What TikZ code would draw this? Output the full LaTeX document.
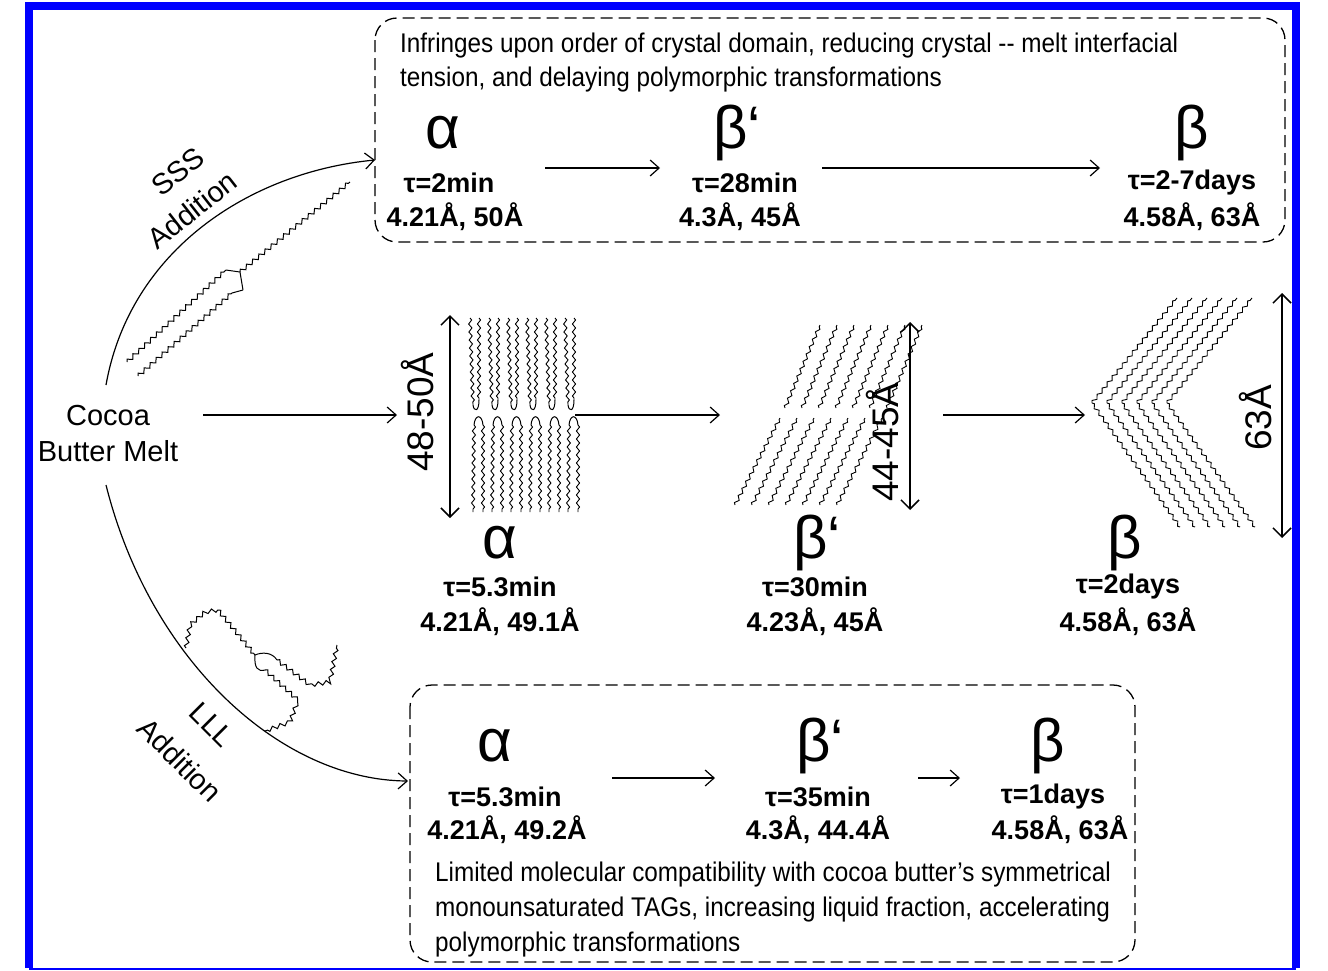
\documentclass[tikz,border=0pt]{standalone}
\usepackage{fontspec}
\setmainfont{Liberation Sans}
\newfontfamily\narrowf{Liberation Sans}[FakeStretch=0.9]
\usetikzlibrary{decorations.pathmorphing,arrows.meta}
\begin{document}
\begin{tikzpicture}[x=1pt,y=-1pt,
 desc/.style={font=\narrowf\fontsize{27}{35}\selectfont,anchor=west,inner sep=0},
 greek/.style={font=\fontsize{60}{60}\selectfont,inner sep=0},
 tau/.style={font=\bfseries\fontsize{27}{27}\selectfont,inner sep=0},
 lbl/.style={font=\fontsize{29}{36}\selectfont,inner sep=0,align=center},
 dlbl/.style={font=\fontsize{37}{37}\selectfont,inner sep=0,rotate=90},
 arr/.style={-{Straight Barb[length=9pt,width=16pt]},line width=1.2pt},
 dimarr/.style={{Straight Barb[length=9pt,width=18pt]}-{Straight Barb[length=9pt,width=18pt]},line width=1.5pt},
 box/.style={dashed,dash pattern=on 12pt off 6pt,line width=1.3pt,rounded corners=22pt},
 chain/.style={decorate,decoration={zigzag,segment length=8pt,amplitude=2pt},line width=1pt},
 schain/.style={decorate,decoration={zigzag,segment length=8pt,amplitude=1.6pt},line width=0.9pt},
 plain/.style={line width=1pt}]
\useasboundingbox (0,0) rectangle (1328,970);
% blue frame
\draw[blue,line width=8pt] (29,968) -- (29,6) -- (1296,6) -- (1296,968);
\draw[blue,line width=2pt] (29,969) -- (1296,969);

% top box
\draw[box] (375,18) rectangle (1285,242);
\node[desc] (t1) at (400,46) {Infringes upon order of crystal domain, reducing crystal -- melt interfacial};
\node[desc] (t2) at (400,80) {tension, and delaying polymorphic transformations};
\node[greek] (ta) at (443,133) {α};
\node[tau] (tat) at (449,183) {τ=2min};
\node[tau] (tad) at (455,217) {4.21Å, 50Å};
\node[greek] (tb1) at (737,133) {β‘};
\node[tau] (tb1t) at (745,183) {τ=28min};
\node[tau] (tb1d) at (740,217) {4.3Å, 45Å};
\node[greek] (tb) at (1192,133) {β};
\node[tau] (tbt) at (1192,183) {τ=2-7days};
\node[tau] (tbd) at (1192,217) {4.58Å, 63Å};
\coordinate (ta1) at (545,168); \coordinate (ta2) at (660,168);
\coordinate (tb1a) at (822,168); \coordinate (tb1b) at (1100,168);
\draw[arr] (ta1) -- (ta2);
\draw[arr] (tb1a) -- (tb1b);

% cocoa
\node[lbl] (cocoa) at (108,434) {Cocoa\\Butter Melt};
\coordinate (m1) at (203,415); \coordinate (m2) at (397,415);
\draw[arr] (m1) -- (m2);
\coordinate (m3) at (575,415); \coordinate (m4) at (720,415);
\draw[arr] (m3) -- (m4);
\coordinate (m5) at (943,415); \coordinate (m6) at (1085,415);
\draw[arr] (m5) -- (m6);

% SSS arc
\coordinate (s0) at (106,385); \coordinate (s1) at (375,160);
\draw[arr] (s0) .. controls (130,250) and (250,172) .. (s1);
\node[lbl,rotate=38] (sss) at (178,172) {SSS};
\node[lbl,rotate=38] (sssa) at (192,210) {Addition};
% LLL arc
\coordinate (l0) at (106,485); \coordinate (l1) at (408,781);
\draw[arr] (l0) .. controls (150,660) and (280,780) .. (l1);
\node[lbl,rotate=-45] (lll) at (212,725) {LLL};
\node[lbl,rotate=-45] (llla) at (180,760) {Addition};

% SSS molecule
\draw[chain] (127,362) -- (226,270);
\draw[plain] (226,270) -- (240,272) -- (243,290);
\draw[chain] (240,272) -- (350,182);
\draw[chain] (138,376) -- (232,293);
\draw[plain] (232,293) -- (243,290);

% LLL molecule
\draw[chain] (186,648) -- (190,625) -- (205,612) -- (218,610);
\draw[chain] (218,610) -- (255,655);
\draw[plain] (255,655) .. controls (262,652) and (272,652) .. (277,660);
\draw[chain] (277,660) -- (310,685) -- (330,682) -- (337,645);
\draw[plain] (255,655) .. controls (254,668) and (258,672) .. (265,670);
\draw[chain] (265,670) -- (298,700) -- (290,722) -- (265,731);
% chains mid α
\foreach \i in {0,...,5}{
  \pgfmathsetmacro{\x}{470+19*\i}
  \draw[schain] (\x,318) -- (\x+3,405);
  \draw[schain] (\x+9,318) -- (\x+9,400);
  \draw[plain] (\x+3,405) .. controls (\x+4,412) and (\x+9,412) .. (\x+9,400);
  \draw[schain] (\x+4,425) -- (\x+3,512);
  \draw[schain] (\x+13,425) -- (\x+13,512);
  \draw[plain] (\x+4,425) .. controls (\x+5,414) and (\x+12,414) .. (\x+13,425);
}
\coordinate (d1a) at (450,315); \coordinate (d1b) at (450,518);
\draw[dimarr] (d1a) -- (d1b);
\node[dlbl] (d1) at (418,412) {48-50Å};
\node[greek] (ma) at (500,543) {α};
\node[tau] (mat) at (500,587) {τ=5.3min};
\node[tau] (mad) at (500,622) {4.21Å, 49.1Å};

% β' crystal
\foreach \i in {0,...,6}{
  \pgfmathsetmacro{\x}{735+17*\i}
  \draw[schain] (\x,505) -- (\x+45,418);
  \draw[schain] (\x+50,408) -- (\x+85,325);
}
\coordinate (d2a) at (910,322); \coordinate (d2b) at (910,510);
\draw[dimarr] (d2a) -- (d2b);
\node[dlbl] (d2) at (883,442) {44-45Å};
\node[greek] (mb1) at (817,543) {β‘};
\node[tau] (mb1t) at (815,587) {τ=30min};
\node[tau] (mb1d) at (815,622) {4.23Å, 45Å};

% β crystal
\foreach \i in {0,...,5}{
  \pgfmathsetmacro{\x}{1092+15*\i}
  \draw[schain] (\x,403) -- (\x+85,298);
  \draw[schain] (\x,403) -- (\x+88,527);
}
\coordinate (d3a) at (1282,293); \coordinate (d3b) at (1282,538);
\draw[dimarr] (d3a) -- (d3b);
\node[dlbl] (d3) at (1256,418) {63Å};
\node[greek] (mb) at (1125,543) {β};
\node[tau] (mbt) at (1128,587) {τ=2days};
\node[tau] (mbd) at (1128,622) {4.58Å, 63Å};

% bottom box
\draw[box] (410,685) rectangle (1135,962);
\node[greek] (ba) at (495,746) {α};
\node[tau] (bat) at (505,797) {τ=5.3min};
\node[tau] (bad) at (507,830) {4.21Å, 49.2Å};
\node[greek] (bb1) at (820,746) {β‘};
\node[tau] (bb1t) at (818,797) {τ=35min};
\node[tau] (bb1d) at (818,830) {4.3Å, 44.4Å};
\node[greek] (bb) at (1048,746) {β};
\node[tau] (bbt) at (1053,797) {τ=1days};
\node[tau] (bbd) at (1060,830) {4.58Å, 63Å};
\coordinate (ba1) at (612,778); \coordinate (ba2) at (715,778);
\coordinate (bb1a) at (918,778); \coordinate (bb1b) at (960,778);
\draw[arr] (ba1) -- (ba2);
\draw[arr] (bb1a) -- (bb1b);
\node[desc] (b1) at (435,875) {Limited molecular compatibility with cocoa butter’s symmetrical};
\node[desc] (b2) at (435,910) {monounsaturated TAGs, increasing liquid fraction, accelerating};
\node[desc] (b3) at (435,945) {polymorphic transformations};
\end{tikzpicture}
\end{document}
